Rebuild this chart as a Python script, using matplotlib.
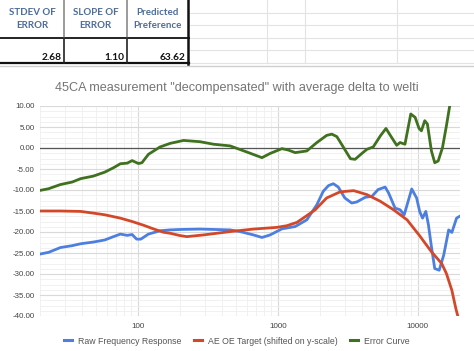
import matplotlib
matplotlib.use("Agg")
import matplotlib.pyplot as plt
from matplotlib.lines import Line2D
from matplotlib.ticker import FixedLocator, LogLocator, NullFormatter, MultipleLocator

# ---- table data ----
table_headers = ["STDEV OF\nERROR", "SLOPE OF\nERROR", "Predicted\nPreference"]
table_values = ["2.68", "1.10", "63.62"]

# ---- chart data ----
title = '45CA measurement "decompensated" with average delta to welti'

err_f = [20, 23, 28, 34, 39, 48, 58, 67, 75, 84, 91, 101, 107, 119, 144, 170, 212, 278, 347, 456,
         600, 770, 880, 1070, 1190, 1330, 1610, 1900, 2230, 2430, 2640, 2950, 3300, 3560, 3980,
         4330, 4800, 5400, 5920, 6500, 7060, 7460, 8090, 8900, 9560, 10200, 10600, 11200, 11700,
         12500, 13200, 13970, 15000, 16000, 16900, 18000]
err_v = [-10.1, -9.7, -8.7, -8.1, -7.3, -6.7, -5.75, -4.7, -3.75, -3.6, -3.0, -3.7, -3.5, -1.5,
         0.25, 1.1, 1.8, 1.5, 0.9, 0.5, -0.95, -2.3, -1.3, -0.15, -0.5, -1.1, -0.7, 1.3, 3.0, 3.3,
         2.7, 0.1, -2.55, -2.7, -1.3, -0.3, 0.25, 2.9, 4.65, 2.5, 0.65, 1.3, 0.9, 8.1, 7.3, 4.65,
         4.1, 6.5, 5.7, -0.7, -3.5, -3.1, 0.1, 5.3, 10.1, 14.0]

raw_f = [20, 23, 28, 34, 39, 48, 58, 67, 75, 84, 91, 98, 105, 119, 144, 170, 200, 278, 456, 537,
         670, 770, 880, 1070, 1330, 1610, 1900, 2110, 2300, 2490, 2700, 3010, 3370, 3660, 4200,
         4700, 5200, 5840, 6180, 6870, 7460, 7990, 9040, 9800, 10300, 10800, 11400, 11900, 12500,
         13200, 14200, 15300, 16600, 17500, 18900, 19800]
raw_v = [-25.25, -24.85, -23.7, -23.25, -22.8, -22.4, -21.9, -21.1, -20.5, -20.8, -20.6, -21.7,
         -21.7, -20.5, -19.7, -19.5, -19.4, -19.3, -19.5, -19.9, -20.7, -21.3, -20.7, -19.25,
         -18.7, -17.1, -13.5, -10.3, -8.95, -8.5, -9.3, -11.9, -13.1, -12.85, -11.75, -11.5,
         -9.9, -9.3, -10.7, -14.3, -14.7, -15.9, -9.75, -11.9, -15.1, -16.7, -15.1, -18.3,
         -23.5, -28.7, -29.1, -25.5, -19.5, -20.1, -16.7, -16.3]

tgt_f = [20, 28, 39, 48, 58, 75, 91, 110, 129, 152, 170, 200, 224, 294, 456, 670, 984, 1160,
         1370, 1610, 1850, 2230, 2780, 3480, 4330, 5400, 6700, 8370, 10300, 12500, 14800, 16000,
         17500, 18700, 19400, 20000]
tgt_v = [-15.0, -15.0, -15.1, -15.5, -15.9, -16.7, -17.5, -18.4, -19.25, -20.05, -20.3, -20.85,
         -21.1, -20.7, -19.9, -19.3, -18.9, -18.5, -17.7, -16.1, -14.7, -11.9, -10.45, -10.15,
         -11.1, -12.7, -14.7, -17.1, -20.9, -24.7, -27.5, -29.9, -33.9, -38.3, -40.3, -42.0]

series_names = ["Raw Frequency Response", "AE OE Target (shifted on y-scale)", "Error Curve"]
series_colors = ["#4d7fe0", "#d4482a", "#3f711f"]
x_ticks = [100, 1000, 10000]
y_ticks = [10, 5, 0, -5, -10, -15, -20, -25, -30, -35, -40]

W, H = 474, 351
fig = plt.figure(figsize=(W / 100, H / 100), dpi=100)
plt.rcParams['font.family'] = ['Liberation Sans', 'DejaVu Sans']

def fx(px):
    return px / W

def fy(py):
    return 1 - py / H

# ---- spreadsheet area ----
light = "#e3e3e3"
for py in [12.5, 25, 37.7, 50, 62.7]:
    fig.add_artist(Line2D([fx(190), 1], [fy(py), fy(py)], color=light, lw=0.8))
for px in [267.3, 305.3, 396.7]:
    fig.add_artist(Line2D([fx(px), fx(px)], [fy(0), fy(63)], color=light, lw=0.8))
fig.add_artist(Line2D([0, 1], [fy(65.8), fy(65.8)], color="#cfcfcf", lw=1.0))

# thick borders
fig.add_artist(Line2D([0, fx(189)], [fy(37.7), fy(37.7)], color="#222222", lw=1.4))
fig.add_artist(Line2D([0, fx(189)], [fy(62.7), fy(62.7)], color="#111111", lw=1.6))
for px in [64.3, 126.7]:
    fig.add_artist(Line2D([fx(px), fx(px)], [fy(0), fy(37.7)], color="#8a8a8a", lw=1.2))
    fig.add_artist(Line2D([fx(px), fx(px)], [fy(37.7), fy(62.7)], color="#222222", lw=1.2))
fig.add_artist(Line2D([fx(188.3), fx(188.3)], [fy(0), fy(63.5)], color="#111111", lw=1.8))

col_centers = [32, 95.5, 157.5]
col_rights = [62, 124.5, 186]
for c, hdr in zip(col_centers, table_headers):
    fig.text(fx(c), fy(19), hdr, ha="center", va="center", fontsize=7, fontweight="bold",
             color="#4e6d99", family=["Lato", "DejaVu Sans"], linespacing=1.45)
for r, val in zip(col_rights, table_values):
    fig.text(fx(r), fy(57), val, ha="right", va="center", fontsize=7.3, fontweight="bold",
             color="#111111", family=["Lato", "DejaVu Sans"])

# ---- chart ----
fig.text(0.5, fy(87.5), title, ha="center", va="center", fontsize=9.1, color="#757575")

ax = fig.add_axes([fx(40), fy(316), fx(420), 210 / H])
ax.set_xscale("log")
ax.set_xlim(20, 20000)
ax.set_ylim(-40, 10)

ax.plot(raw_f, raw_v, color=series_colors[0], lw=2.0, solid_joinstyle="round", zorder=3)
ax.plot(tgt_f, tgt_v, color=series_colors[1], lw=2.0, solid_joinstyle="round", zorder=3)
ax.plot(err_f, err_v, color=series_colors[2], lw=2.0, solid_joinstyle="round", zorder=4)

ax.xaxis.set_major_locator(FixedLocator(x_ticks))
ax.set_xticklabels([str(t) for t in x_ticks])
ax.xaxis.set_minor_locator(LogLocator(base=10, subs=range(2, 10)))
ax.xaxis.set_minor_formatter(NullFormatter())
ax.yaxis.set_major_locator(FixedLocator(y_ticks))
ax.set_yticklabels([f"{t:.2f}" for t in y_ticks])
ax.yaxis.set_minor_locator(MultipleLocator(1.25))

ax.grid(which="major", color="#d9d9d9", lw=0.8)
ax.grid(which="minor", color="#efefef", lw=0.6)
ax.axhline(0, color="#555555", lw=0.9, zorder=2)
ax.set_axisbelow(True)
for s in ax.spines.values():
    s.set_visible(False)
ax.tick_params(which="both", length=0)
ax.tick_params(axis="y", labelsize=5.7, labelcolor="#444444", pad=4)
ax.tick_params(axis="x", labelsize=5.8, labelcolor="#444444", pad=5)

handles = [Line2D([], [], color=c, lw=2.2) for c in series_colors]
fig.legend(handles, series_names, loc="center", bbox_to_anchor=(0.5, fy(341)), ncol=3,
           frameon=False, fontsize=6.3, handlelength=0.9, handletextpad=0.7, columnspacing=1.4,
           labelcolor="#555555")

fig.savefig("out.png", dpi=100)
